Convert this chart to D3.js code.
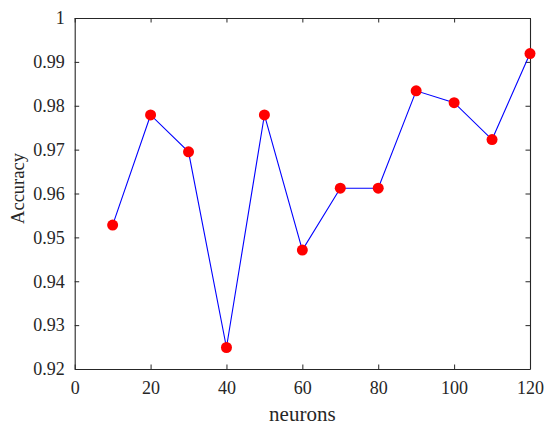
<!DOCTYPE html>
<html>
<head>
<meta charset="utf-8">
<script src="https://cdn.jsdelivr.net/npm/d3@7"></script>
<style>
  body { margin: 0; background: #fff; }
</style>
</head>
<body>
<div class="chart"></div>
<script>
// data
const neurons = [10, 20, 30, 40, 50, 60, 70, 80, 90, 100, 110, 120];
const accuracy = [0.9528, 0.9779, 0.9695, 0.9249, 0.9779, 0.9471, 0.9612, 0.9612, 0.9834, 0.9807, 0.9723, 0.9919];
const xTicks = [0, 20, 40, 60, 80, 100, 120];
const yTicks = [0.92, 0.93, 0.94, 0.95, 0.96, 0.97, 0.98, 0.99, 1];
const yTickLabels = ["0.92", "0.93", "0.94", "0.95", "0.96", "0.97", "0.98", "0.99", "1"];

const serif = "'Liberation Serif', 'Times New Roman', Times, 'DejaVu Serif', serif";

(function(){
    const
        svgWidth = 550,
        svgHeight = 433;

    const margin = {
        top: 18,
        right: 20,
        bottom: 64,
        left: 74.7
    };

    const width = svgWidth - margin.left - margin.right;
    const height = svgHeight - margin.top - margin.bottom;

    const svg = d3.select(".chart")
        .append("svg")
        .attr("width", svgWidth)
        .attr("height", svgHeight)
        .style("font-family", serif);

    const chartGroup = svg.append("g")
        .attr("transform", `translate(${margin.left}, ${margin.top})`);

    // scales
    const xScale = d3.scaleLinear().domain([0, 120]).range([0, width]);
    const yScale = d3.scaleLinear().domain([0.92, 1]).range([height, 0]);

    // axes, ticks pointing inward like matlab
    const tickLen = 4.5;
    const bottomAxis = d3.axisBottom(xScale).tickValues(xTicks).tickSizeInner(-tickLen).tickSizeOuter(0).tickPadding(12);
    const topAxis = d3.axisTop(xScale).tickValues(xTicks).tickSizeInner(-tickLen).tickSizeOuter(0).tickFormat("");
    const leftAxis = d3.axisLeft(yScale).tickValues(yTicks).tickSizeInner(-tickLen).tickSizeOuter(0).tickPadding(10)
        .tickFormat((d, i) => yTickLabels[i]);
    const rightAxis = d3.axisRight(yScale).tickValues(yTicks).tickSizeInner(-tickLen).tickSizeOuter(0).tickFormat("");

    const axes = [
        [bottomAxis, `translate(0, ${height})`],
        [topAxis, "translate(0, 0)"],
        [leftAxis, "translate(0, 0)"],
        [rightAxis, `translate(${width}, 0)`]
    ];
    axes.forEach(([ax, tr]) => {
        const g = chartGroup.append("g").attr("transform", tr).call(ax);
        g.attr("font-family", null);
        g.selectAll("path.domain").attr("stroke", "#262626").attr("stroke-width", 1.1);
        g.selectAll(".tick line").attr("stroke", "#262626").attr("stroke-width", 1);
        g.selectAll(".tick text")
            .style("font-family", serif)
            .style("font-size", "18px")
            .attr("fill", "#262626");
    });

    // line
    const line = d3.line()
        .x((d, i) => xScale(neurons[i]))
        .y(d => yScale(d));

    chartGroup.append("path")
        .datum(accuracy)
        .attr("fill", "none")
        .attr("stroke", "#0000ff")
        .attr("stroke-width", 1.1)
        .attr("d", line);

    // markers
    chartGroup.selectAll("circle")
        .data(accuracy)
        .enter()
        .append("circle")
        .attr("cx", (d, i) => xScale(neurons[i]))
        .attr("cy", d => yScale(d))
        .attr("r", 5.5)
        .attr("fill", "#ff0000");

    // axis labels
    chartGroup.append("text")
        .attr("transform", "rotate(-90)")
        .attr("x", 0 - (height / 2) + 5)
        .attr("y", 0 - margin.left + 24)
        .attr("text-anchor", "middle")
        .attr("fill", "#262626")
        .style("font-family", serif)
        .style("font-size", "18.5px")
        .text("Accuracy");

    chartGroup.append("text")
        .attr("x", width / 2)
        .attr("y", height + 52)
        .attr("text-anchor", "middle")
        .attr("fill", "#262626")
        .style("font-family", serif)
        .style("font-size", "21px")
        .text("neurons");
})();
</script>
</body>
</html>
